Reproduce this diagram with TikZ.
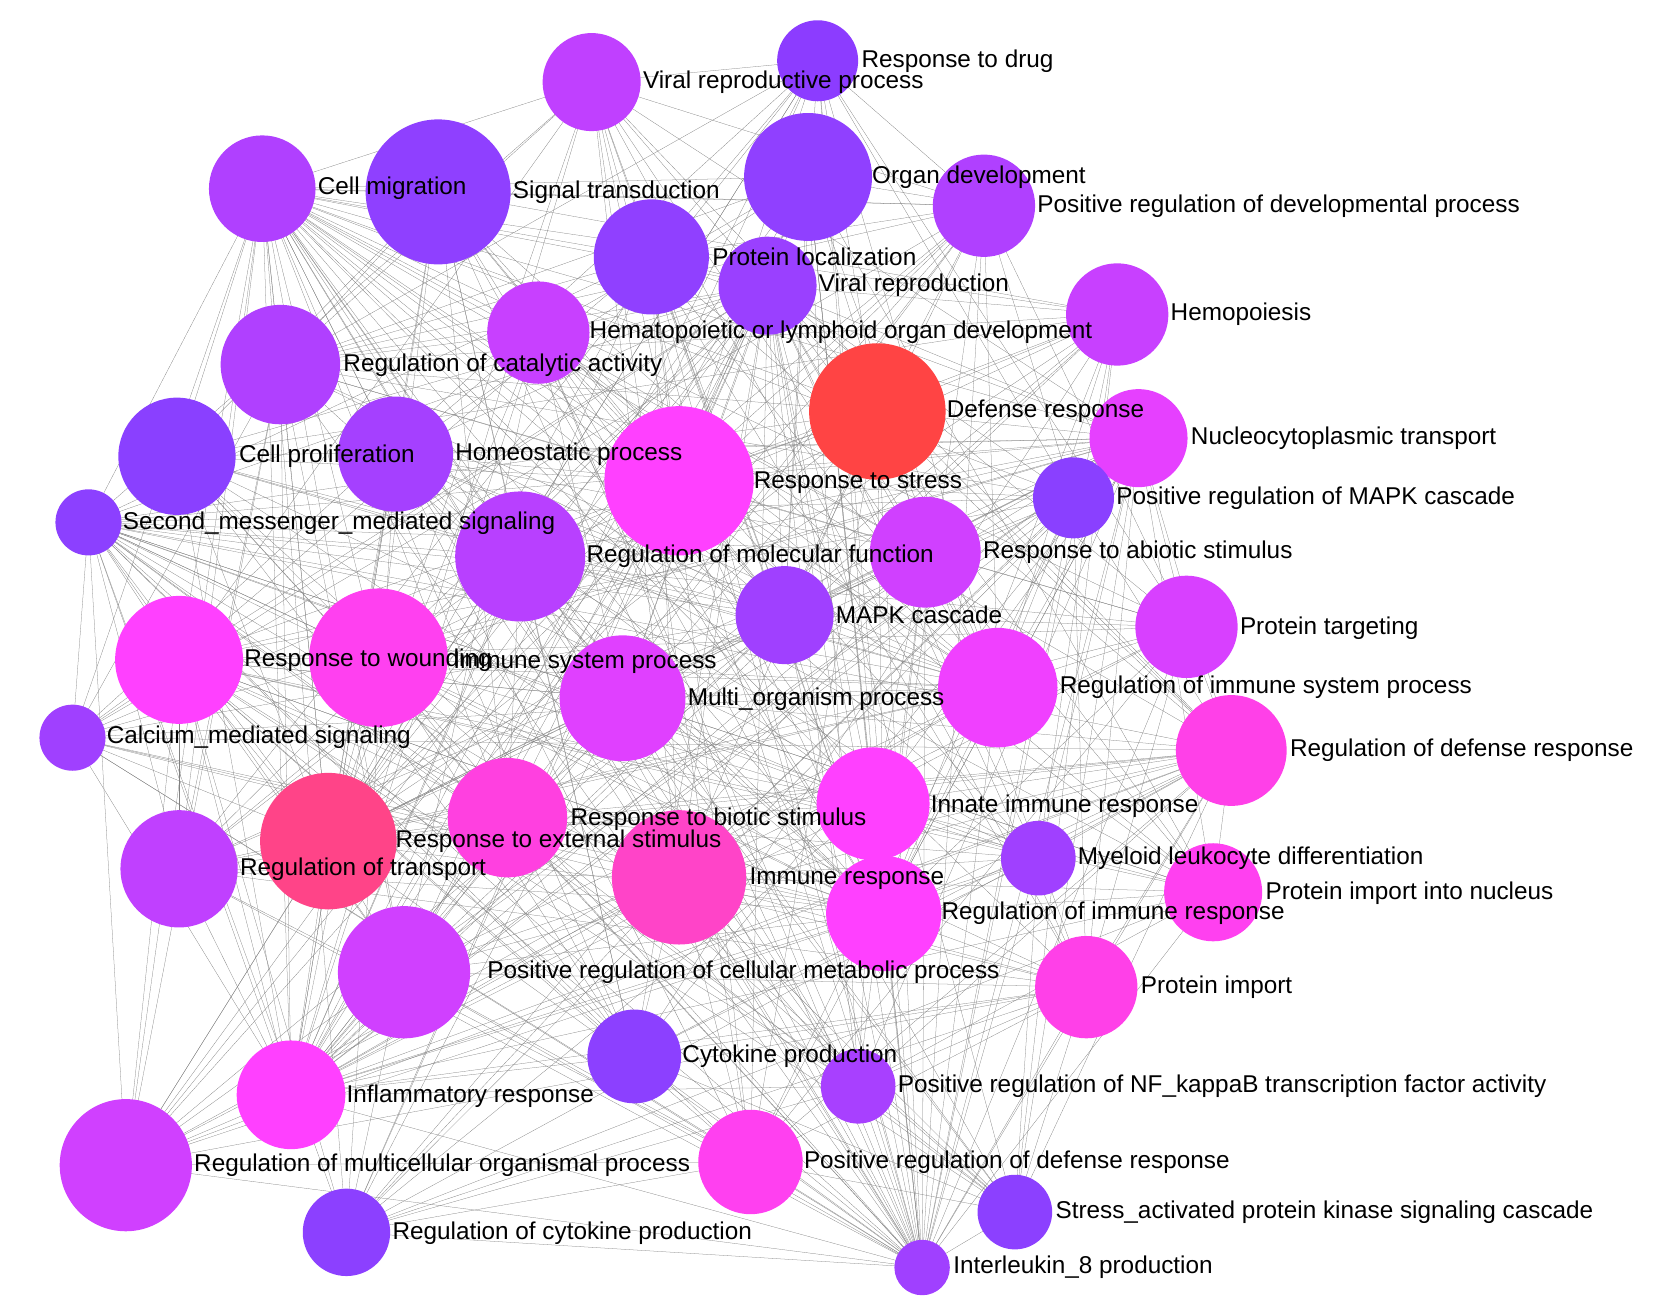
\documentclass[tikz,border=0pt]{standalone}
\usepackage{fontspec}
\setmainfont{Liberation Sans}
\begin{document}
\begin{tikzpicture}[x=1pt,y=-1pt,
  lab/.style={anchor=west,inner sep=0pt,font=\fontsize{22.8}{24}\selectfont},
  edge/.style={draw=black!50,line width=0.25pt}]
\useasboundingbox (0,0) rectangle (1560,1224);
\foreach \i/\x/\y in {1/767/57,2/555/77,3/246/177,4/411/180,5/758/166,6/923/193,7/611/241,8/720/268,9/1048/295,10/505/312,11/263/342,12/823/386,13/1068/411,14/166/428,15/371/426,16/637/451,17/1007/467,18/83/490,19/488/522,20/868/518,21/736/577,22/1113/588,23/168/619,24/355/617,25/584/655,26/936/645,27/68/692,28/1155/704,29/476/767,30/819/754,31/308/789,32/168/815,33/637/823,34/974/805,35/1138/837,36/829/857,37/379/912,38/1019/926,39/595/991,40/805/1019,41/273/1027,42/118/1093,43/704/1090,44/952/1137,45/325/1156,46/865/1189}
  {\coordinate (n\i) at (\x,\y);}
\foreach \i in {1,...,45}{
  \pgfmathtruncatemacro{\s}{\i+1}
  \foreach \j in {\s,...,46}{
    \pgfmathtruncatemacro{\h}{mod(\i*37+\j*91+\i*\j*3,5)}
    \ifnum\h<2 \draw[edge] (n\i) -- (n\j);\fi
  }}
\foreach \i/\r/\c in {1/38/8C3CFF,2/46/C040FF,3/50/B040FF,4/68/8F40FF,5/60/9040FF,6/48/B040FF,7/54/9040FF,8/46/9A40FF,9/48/C840FF,10/48/C840FF,11/56/B040FF,12/64/FF4444,13/46/E640FF,14/55/8A40FF,15/54/A540FF,16/70/FF40FF,17/38/8A40FF,18/31/8C40FF,19/61/B840FF,20/52/D040FF,21/46/A040FF,22/48/D840FF,23/60/FF40FF,24/65/FF40F0,25/59/E040FF,26/56/F040FF,27/31/A040FF,28/52/FF40E8,29/56/FF40E0,30/53/FF40FF,31/64/FF4488,32/55/C040FF,33/63/FF44C8,34/35/A040FF,35/46/FF40F0,36/54/FF40FF,37/62/D040FF,38/48/FF40E8,39/44/8C40FF,40/35/A840FF,41/51/FF40FF,42/62/D040FF,43/49/FF40F0,44/35/8C40FF,45/41/8C40FF,46/26/A040FF}
  {\definecolor{tmpc}{HTML}{\c}\fill[tmpc] (n\i) circle (\r);}
\foreach \i/\x/\y/\t in {1/808/57/Response to drug,2/603/77/Viral reproductive process,3/298/177/Cell migration,4/481/180/Signal transduction,5/818/166/Organ development,6/973/193/Positive regulation of developmental process,7/668/241/Protein localization,8/768/268/Viral reproduction,9/1098/295/Hemopoiesis,10/553/312/Hematopoietic or lymphoid organ development,11/322/343/Regulation of catalytic activity,12/888/386/Defense response,13/1117/411/Nucleocytoplasmic transport,14/224/428/Cell proliferation,15/427/426/Homeostatic process,16/707/453/Response to stress,17/1047/467/Positive regulation of MAPK cascade,18/115/491/Second\_messenger\_mediated signaling,19/550/522/Regulation of molecular function,20/922/518/Response to abiotic stimulus,21/784/577/MAPK cascade,22/1163/589/Protein targeting,23/229/619/Response to wounding,24/425/622/Immune system process,25/645/656/Multi\_organism process,26/994/645/Regulation of immune system process,27/100/692/Calcium\_mediated signaling,28/1210/704/Regulation of defense response,29/535/768/Response to biotic stimulus,30/873/756/Innate immune response,31/371/789/Response to external stimulus,32/225/815/Regulation of transport,33/703/824/Immune response,34/1011/805/Myeloid leukocyte differentiation,35/1187/838/Protein import into nucleus,36/883/857/Regulation of immune response,37/457/912/Positive regulation of cellular metabolic process,38/1070/926/Protein import,39/640/991/Cytokine production,40/842/1019/Positive regulation of NF\_kappaB transcription factor activity,41/325/1028/Inflammatory response,42/182/1093/Regulation of multicellular organismal process,43/754/1090/Positive regulation of defense response,44/990/1137/Stress\_activated protein kinase signaling cascade,45/368/1157/Regulation of cytokine production,46/894/1189/Interleukin\_8 production}
  {\node[lab] (l\i) at (\x,\y) {\t};}
\end{tikzpicture}
\end{document}
